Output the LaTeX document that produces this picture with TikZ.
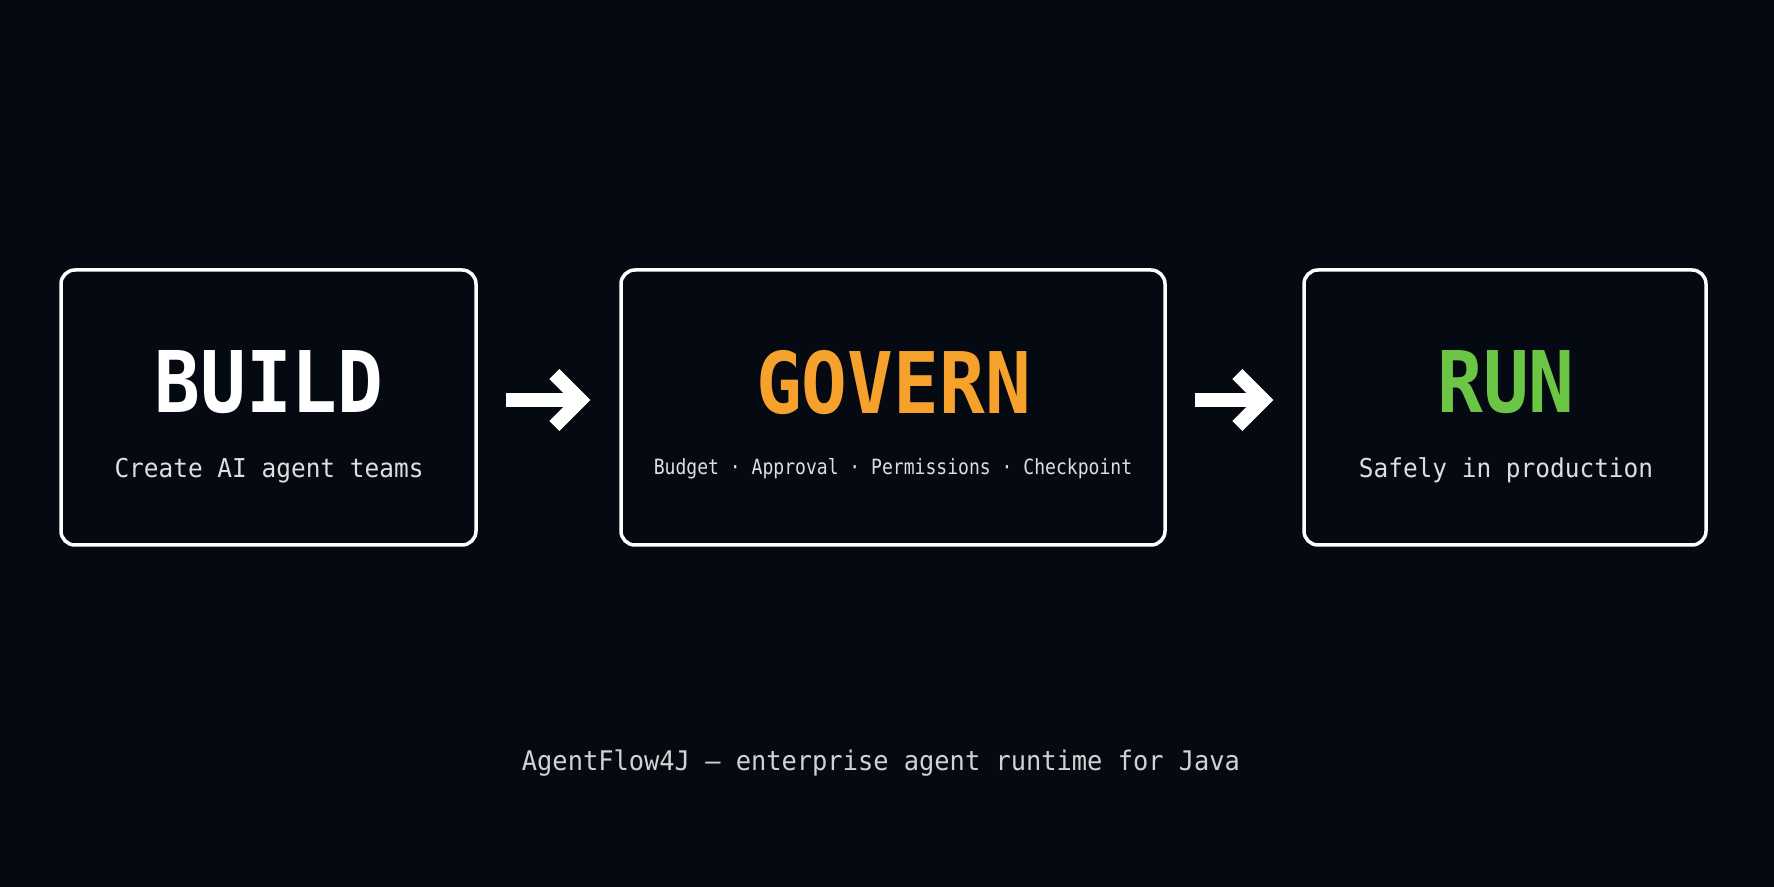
\documentclass[tikz,border=0pt]{standalone}
\usepackage{fontspec}
\usetikzlibrary{arrows.meta}
\newfontfamily\headfont{DejaVu Sans Mono}[FakeStretch=0.895]
\newfontfamily\subfont{DejaVu Sans Mono}[FakeStretch=0.94]
\newfontfamily\smallfont{DejaVu Sans Mono}[FakeStretch=0.86]
\newfontfamily\footfont{DejaVu Sans Mono}[FakeStretch=0.94]
\definecolor{bg}{HTML}{050A12}
\definecolor{govorange}{HTML}{F5A12B}
\definecolor{rungreen}{HTML}{6CC646}
\definecolor{subgrey}{HTML}{DEDEDE}
\definecolor{footgrey}{HTML}{D2D2D2}
\tikzset{
  stage/.style={draw=white, line width=1.75pt, rounded corners=7pt, minimum height=137.5pt, inner sep=0pt},
  head/.style={anchor=base, inner sep=0pt, font=\headfont\bfseries\fontsize{42.5pt}{50pt}\selectfont},
  subtxt/.style={anchor=base, inner sep=0pt, text=subgrey, font=\subfont\fontsize{13pt}{16pt}\selectfont},
  smalltxt/.style={anchor=base, inner sep=0pt, text=subgrey, font=\smallfont\fontsize{10.5pt}{13pt}\selectfont},
  foottxt/.style={anchor=base, inner sep=0pt, text=footgrey, font=\footfont\fontsize{13.5pt}{16pt}\selectfont},
  flow/.style={draw=white, line width=7pt, -{Straight Barb[length=13pt, width=26pt]}, shorten <=14pt, shorten >=14.5pt}
}
\begin{document}
\begin{tikzpicture}[x=0.5pt, y=-0.5pt]
\fill[bg] (0,0) rectangle (1774,887);
\useasboundingbox (0,0) rectangle (1774,887);

\node[stage, minimum width=207.5pt] (build) at (268.5,407.5) {};
\node[stage, minimum width=272pt] (govern) at (893,407.5) {};
\node[stage, minimum width=201pt] (run) at (1505,407.5) {};

\node[head, text=white] (buildT) at (269,413) {BUILD};
\node[subtxt] (buildS) at (269,478) {Create AI agent teams};
\node[head, text=govorange] (govT) at (893.5,414) {GOVERN};
\node[smalltxt] (govS) at (893,475) {Budget · Approval · Permissions · Checkpoint};
\node[head, text=rungreen] (runT) at (1506,413) {RUN};
\node[subtxt] (runS) at (1506,478) {Safely in production};

\node[foottxt] (foot) at (881,770) {AgentFlow4J – enterprise agent runtime for Java};

\draw[flow] ([yshift=3.75pt]build.east) -- ([yshift=3.75pt]govern.west);
\draw[flow] ([yshift=3.75pt]govern.east) -- ([yshift=3.75pt]run.west);
\end{tikzpicture}
\end{document}
